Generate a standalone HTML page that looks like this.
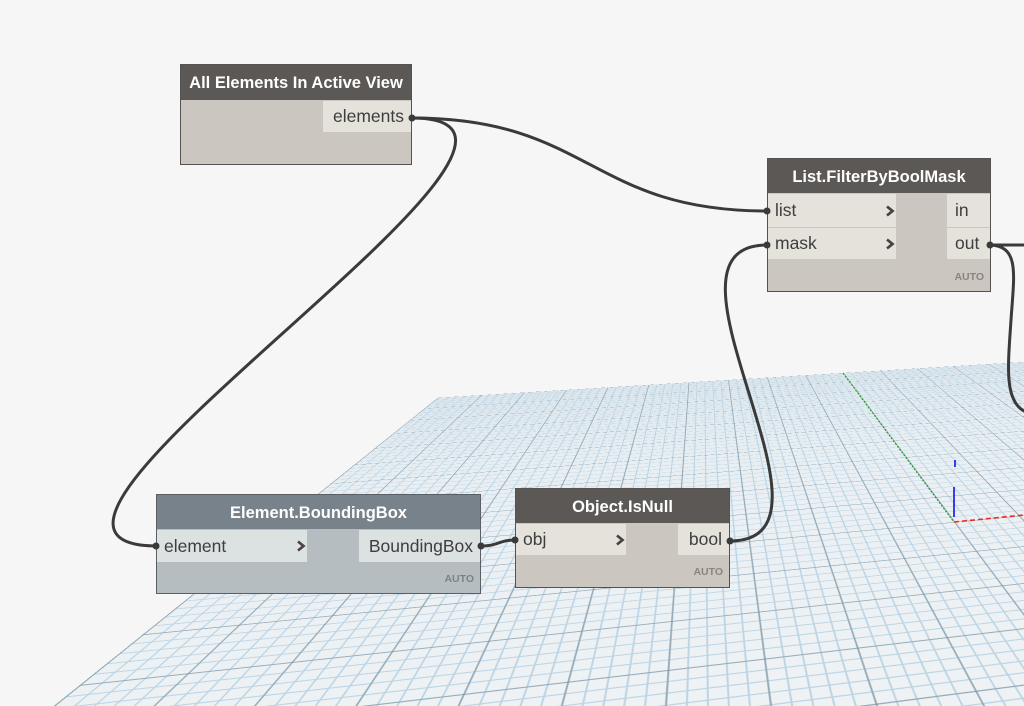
<!DOCTYPE html>
<html>
<head>
<meta charset="utf-8">
<style>
html,body{margin:0;padding:0;width:1024px;height:706px;overflow:hidden;}
body{background:#f6f6f6;position:relative;font-family:"Liberation Sans",sans-serif;}
#gridwrap{position:absolute;left:0;top:0;width:1024px;height:706px;overflow:hidden;clip-path:inset(0 0 0 0);}
#gridwrap::before{content:"";position:absolute;left:0;top:0;width:2000px;height:1600px;transform-origin:0 0;
transform:matrix3d(0.7862,0.00983,0,0.0001365,-0.5572,-0.1466,0,-0.0007926,0,0,1,0,725,658.77,0,1.6561);
background:
 repeating-linear-gradient(90deg, rgba(120,138,150,0.55) 0 1.8px, transparent 1.8px 100px),
 repeating-linear-gradient(180deg, rgba(120,138,150,0.55) 0 1.8px, transparent 1.8px 100px),
 repeating-linear-gradient(90deg, #bcd4e4 0 1.7px, transparent 1.7px 20px),
 repeating-linear-gradient(180deg, #bcd4e4 0 1.7px, transparent 1.7px 20px),
 linear-gradient(180deg,#dae5ec 0%,#e7eef2 35%,#f0f3f5 100%);
}
svg.ov{position:absolute;left:0;top:0;}
.node{position:absolute;box-sizing:border-box;border:1px solid #55524f;background:#cbc6bf;}
.hdr{position:absolute;left:0;top:0;right:0;background:#5b5855;color:#fff;font-weight:bold;font-size:16.5px;text-align:center;white-space:nowrap;}
.port{position:absolute;background:#e5e2dc;color:#3e3e3e;font-size:17.5px;white-space:nowrap;box-sizing:border-box;}
.port.in{padding-left:7px;text-align:left;}
.port.out{text-align:right;padding-right:7px;}
.chev{position:absolute;right:1px;}
.auto{position:absolute;font-weight:bold;font-size:10.5px;color:#8a857f;}
.bb{background:#b6bdc0;border-color:#5a5f63;}
.bb .hdr{background:#78828a;}
.bb .port{background:#dce1e2;}
.bb .auto{color:#7b8388;}
</style>
</head>
<body>
<div id="gridwrap"></div>

<svg class="ov" width="1024" height="706" viewBox="0 0 1024 706">
  <line x1="843" y1="373" x2="954" y2="522" stroke="#2f9a36" stroke-width="1.3" stroke-dasharray="2 1.5"/>
  <line x1="954" y1="522" x2="1024" y2="515" stroke="#ec2b2b" stroke-width="1.6" stroke-dasharray="5 3"/>
  <line x1="954" y1="487" x2="954" y2="517" stroke="#1010ee" stroke-width="1.6"/>
  <line x1="955" y1="460" x2="955" y2="467" stroke="#1010ee" stroke-width="1.6"/>
  <g fill="none" stroke="#3a3a3a" stroke-width="3" stroke-linecap="round">
    <path d="M412,118 C590,118 590,211 767,211"/>
    <path d="M412,118 C632,118 -64,546 157,546"/>
    <path d="M730,541 C859,541 639,245 767,245"/>
    <path d="M481,546 C499,546 498,540 516,540"/>
    <path d="M990,245 L1024,245"/>
    <path d="M990,245 C1020,246 1014,275 1011,320 C1008,365 1004,400 1024,411"/>
  </g>
</svg>

<div class="node" style="left:180px;top:64px;width:232px;height:101px;">
  <div class="hdr" style="height:35px;line-height:36px;">All Elements In Active View</div>
  <div class="port out" style="left:142px;top:36px;width:88px;height:31px;line-height:31px;">elements</div>
</div>

<div class="node" style="left:767px;top:158px;width:224px;height:134px;">
  <div class="hdr" style="height:34px;line-height:36px;">List.FilterByBoolMask</div>
  <div class="port in" style="left:0;top:35px;width:128px;height:33px;line-height:33px;">list
    <svg class="chev" style="top:11px" width="10" height="12"><path d="M2,1.5 L7.5,6 L2,10.5" fill="none" stroke="#48433e" stroke-width="2.7"/></svg></div>
  <div class="port in" style="left:0;top:69px;width:128px;height:31px;line-height:31px;">mask
    <svg class="chev" style="top:10px" width="10" height="12"><path d="M2,1.5 L7.5,6 L2,10.5" fill="none" stroke="#48433e" stroke-width="2.7"/></svg></div>
  <div class="port in" style="left:179px;top:35px;width:43px;height:33px;line-height:33px;padding-left:8px;">in</div>
  <div class="port in" style="left:179px;top:69px;width:43px;height:31px;line-height:31px;padding-left:8px;">out</div>
  <div class="auto" style="right:6px;top:112px;">AUTO</div>
</div>

<div class="node bb" style="left:156px;top:494px;width:325px;height:100px;">
  <div class="hdr" style="height:34px;line-height:36px;">Element.BoundingBox</div>
  <div class="port in" style="left:0;top:35px;width:150px;height:32px;line-height:32px;">element
    <svg class="chev" style="top:10px" width="10" height="12"><path d="M2,1.5 L7.5,6 L2,10.5" fill="none" stroke="#4a4540" stroke-width="2.7"/></svg></div>
  <div class="port out" style="left:202px;top:35px;width:121px;height:32px;line-height:32px;">BoundingBox</div>
  <div class="auto" style="right:6px;top:78px;">AUTO</div>
</div>

<div class="node" style="left:515px;top:488px;width:215px;height:100px;">
  <div class="hdr" style="height:34px;line-height:36px;">Object.IsNull</div>
  <div class="port in" style="left:0;top:35px;width:110px;height:31px;line-height:31px;">obj
    <svg class="chev" style="top:10px" width="10" height="12"><path d="M2,1.5 L7.5,6 L2,10.5" fill="none" stroke="#48433e" stroke-width="2.7"/></svg></div>
  <div class="port out" style="left:162px;top:35px;width:51px;height:31px;line-height:31px;">bool</div>
  <div class="auto" style="right:6px;top:77px;">AUTO</div>
</div>

<svg class="ov" width="1024" height="706" viewBox="0 0 1024 706">
  <g fill="#3a3a3a">
    <circle cx="412" cy="118" r="3.5"/>
    <circle cx="767" cy="211" r="3.5"/>
    <circle cx="767" cy="245" r="3.5"/>
    <circle cx="990" cy="245" r="3.5"/>
    <circle cx="156" cy="546" r="3.5"/>
    <circle cx="481" cy="546" r="3.5"/>
    <circle cx="515" cy="540" r="3.5"/>
    <circle cx="730" cy="541" r="3.5"/>
  </g>
</svg>
</body>
</html>
